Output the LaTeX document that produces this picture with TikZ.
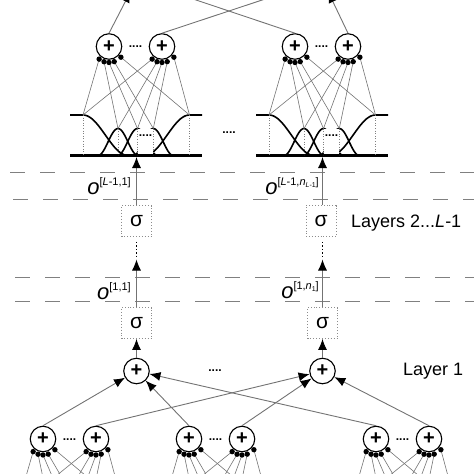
\documentclass[tikz,border=0pt]{standalone}
\usepackage{fontspec}
\setmainfont{Liberation Sans}
\usetikzlibrary{arrows.meta,calc}
\tikzset{
  sumnode/.style={circle,draw=black,line width=1.1pt,minimum size=25.5pt,inner sep=0pt,fill=white,font=\fontsize{20}{20}\selectfont\bfseries},
  sigbox/.style={draw=black!45,dotted,line width=0.9pt,minimum width=30pt,minimum height=31pt,inner sep=0pt,font=\fontsize{21}{21}\selectfont},
  wire/.style={draw=black!55,line width=0.6pt},
  conn/.style={draw=black!55,line width=0.9pt,-{Latex[length=11pt,width=9pt,black]}},
  fcurve/.style={draw=black,line width=1.6pt},
  fbase/.style={draw=black,line width=3.2pt},
  fdot/.style={draw=black!50,dotted,line width=0.6pt},
  hdash/.style={draw=black!50,line width=0.8pt,dash pattern=on 15pt off 15pt},
  ddd/.style={font=\fontsize{12}{12}\selectfont\bfseries,inner sep=0pt},
  vdots/.style={draw=black,line width=1.3pt,dash pattern=on 1.4pt off 2pt},
  lbl/.style={font=\fontsize{18}{18}\selectfont,inner sep=0pt},
  olbl/.style={inner sep=0pt}
}
\newcommand{\olab}[1]{{\fontsize{22}{22}\selectfont\itshape o}\raisebox{9pt}{\fontsize{11}{11}\selectfont #1}}
\newcommand{\fuzzygroup}[3]{%
  \coordinate (#1p1) at (#2-26,#3+68.5);
  \coordinate (#1p2) at (#2+9,#3+82);
  \coordinate (#1p3) at (#2+28.5,#3+82);
  \coordinate (#1p4) at (#2+44.3,#3+82);
  \coordinate (#1p5) at (#2+80.5,#3+68.5);
  \draw[fbase] (#2-39,#3+109) -- (#2+93,#3+109);
  \draw[fcurve] (#2-39,#3+68.5) -- plot[domain=0:45,samples=31] ({#2-26+\x},{#3+109-20.25*(1+cos(4*\x))});
  \foreach \cc in {9,28.5,44.3} {\draw[fcurve] plot[domain=-20:20,samples=31] ({#2+\cc+\x},{#3+109-13.5*(1+cos(9*\x))});}
  \draw[fcurve] plot[domain=-45:0,samples=31] ({#2+80.5+\x},{#3+109-20.25*(1+cos(4*\x))}) -- (#2+93,#3+68.5);
  \fill[white] (#2+28.9,#3+82.5) rectangle (#2+43.9,#3+107.2);
  \foreach \dx/\ty in {-26/68.5, 9/82, 28.5/82, 44.3/82, 80.5/68.5} {\draw[fdot] (#2+\dx,#3+\ty) -- (#2+\dx,#3+108);}
  \node[sumnode] (#1a) at (#2,#3) {+};
  \node[sumnode] (#1b) at (#2+53,#3) {+};
  \node[ddd] at (#2+26.5,#3+0.5) {....};
  \foreach \s in {a,b} {
    \foreach \ang [count=\i] in {232,252,270,289,318} {
      \coordinate (#1\s d\i) at ($(#1\s.center)+(\ang:16pt)$);
      \draw[wire] (#1\s d\i) -- (#1p\i);
      \fill (#1\s d\i) circle[radius=2.7pt];
    }
  }
}
\begin{document}
\begin{tikzpicture}[x=1pt,y=-1pt]
\useasboundingbox (0,0) rectangle (474,474);
\clip (0,0) rectangle (474,474);
\foreach \yy/\ph in {172.3/20, 199/17, 277.3/15, 301.7/15} {\draw[hdash,dash phase=\ph pt] (0,\yy) -- (474,\yy);}
\fuzzygroup{TL}{109}{46.5}
\fuzzygroup{TR}{295}{46.5}
\fuzzygroup{BL}{43}{439}
\fuzzygroup{BM}{189}{439}
\fuzzygroup{BR}{376}{439}
\node[ddd] (gapL) at (145.5,136) {....};
\node[ddd] (gapR) at (331.5,136) {....};
\node[ddd] (gapdots) at (229,133) {....};
% next layer (off picture)
\coordinate (o1) at (136.5,-20);
\coordinate (o2) at (322.5,-20);
\draw[conn,shorten >=13pt] (TLa.north) -- (o1);
\draw[conn,shorten >=13pt] (TRa.north) -- (o1);
\draw[conn,shorten >=13pt] (TLb.north) -- (o2);
\draw[conn,shorten >=13pt] (TRb.north) -- (o2);
% layer 1
\node[sumnode] (u1) at (136.5,371) {+};
\node[sumnode] (u2) at (322.5,371) {+};
\node[ddd] (udots) at (215,370.5) {....};
\draw[conn] (BLa.north) -- (u1);
\draw[conn] (BMa.north) -- (u1);
\draw[conn] (BRa.north) -- (u1);
\draw[conn] (BLb.north) -- (u2);
\draw[conn] (BMb.north) -- (u2);
\draw[conn] (BRb.north) -- (u2);
% sigma columns
\node[sigbox] (g1b) at (136.5,323) {σ};
\node[sigbox] (g1t) at (136.5,221) {σ};
\node[sigbox] (g2b) at (322.5,323) {σ};
\node[sigbox] (g2t) at (321,221) {σ};
\coordinate (k1) at (136.5,259.5);
\coordinate (k2) at (322.5,259.5);
\coordinate (b1) at (136.5,157);
\coordinate (b2) at (322.5,157);
\draw[conn] (u1) -- (g1b);
\draw[conn] (u2) -- (g2b);
\draw[conn] (g1b.north) -- (k1);
\draw[conn] (g2b.north) -- (k2);
\draw[vdots] ($(g1t.south)+(0,5)$) -- ($(g1t.south)+(0,20)$);
\draw[vdots] ($(g2t.south)+(1.5,5)$) -- ($(g2t.south)+(1.5,20)$);
\draw[conn] (g1t.north) -- (b1);
\draw[conn] (g2t.north -| b2) -- (b2);
% labels
\node[olbl,anchor=base east] (la) at (131,194) {\olab{[\textit{L}-1,1]}};
\node[olbl,anchor=base east] (lb) at (131,299) {\olab{[1,1]}};
\node[olbl,anchor=base east] (lc) at (319,194) {\olab{[\textit{L}-1,\textit{n}\raisebox{-2.5pt}{\fontsize{7}{7}\selectfont\textit{L}-1}]}};
\node[olbl,anchor=base east] (ld) at (319,298) {\olab{[1,\textit{n}\raisebox{-2.5pt}{\fontsize{7}{7}\selectfont 1}]}};
\node[lbl,anchor=west] (lay2) at (351,223) {Layers 2...\textit{L}-1};
\node[lbl,anchor=west] (lay1) at (403,371) {Layer 1};
\end{tikzpicture}
\end{document}
